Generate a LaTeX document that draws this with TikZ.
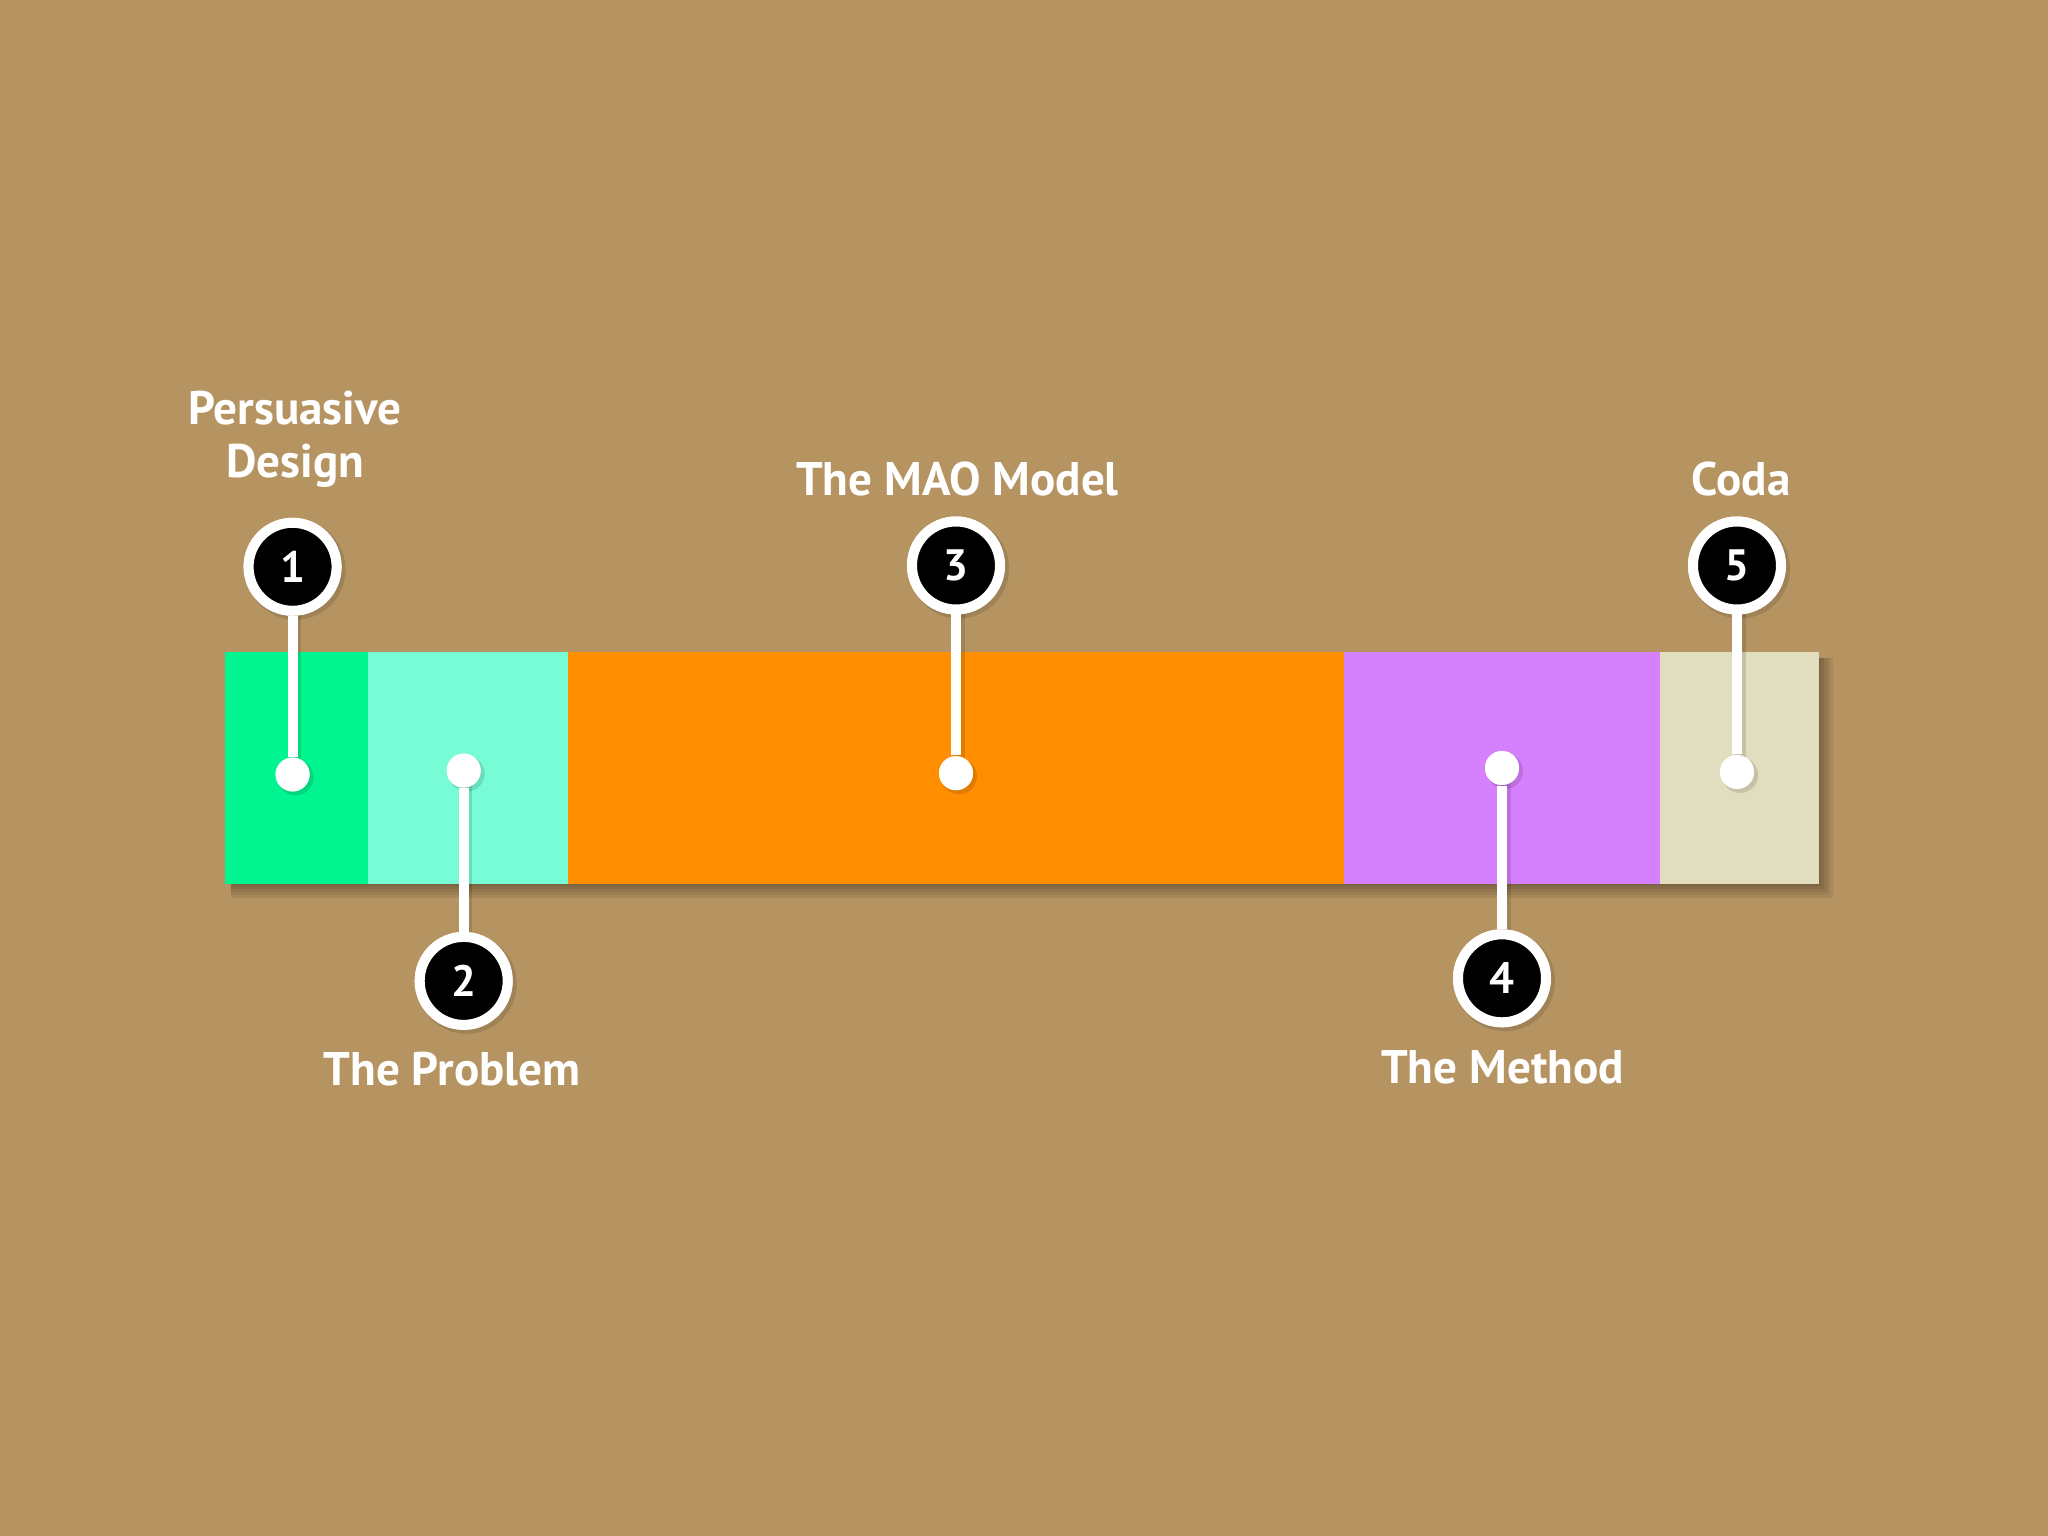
\documentclass[tikz,border=0pt]{standalone}
\usepackage{fontspec}
\setmainfont{PT Sans}
\definecolor{kraft}{HTML}{B69462}
\definecolor{segA}{HTML}{00F590}
\definecolor{segB}{HTML}{78FCD6}
\definecolor{segC}{HTML}{FF8F00}
\definecolor{segD}{HTML}{D580FC}
\definecolor{segE}{HTML}{E0DEBE}
\tikzset{
  badge/.style={circle, fill=black, draw=white, line width=0.1cm, minimum size=0.88cm, inner sep=0pt,
    text=white, font=\bfseries\fontsize{12.5}{13}\selectfont},
  dot/.style={circle, fill=white, minimum size=0.34cm, inner sep=0pt},
  stem/.style={white, line width=0.1cm},
  lbl/.style={text=white, font=\bfseries\fontsize{13.4}{15}\selectfont, align=center, inner sep=0pt},
  soft/.style={black, opacity=0.07},
}
\begin{document}
\begin{tikzpicture}
\useasboundingbox (0,0) rectangle (20.48,-15.36);
\fill[kraft] (0,0) rectangle (20.48,-15.36);
% soft bar shadow (right and bottom only)
\foreach \e in {0.00,0.03,0.06,0.09,0.12}{
  \fill[soft] (2.246+0.06,-6.517-0.06) rectangle (18.194+0.02+\e,-8.842-0.02-\e);
}
% bar segments
\fill[segA] (2.246,-6.517) rectangle (3.68,-8.842);
\fill[segB] (3.68,-6.517) rectangle (5.682,-8.842);
\fill[segC] (5.682,-6.517) rectangle (13.44,-8.842);
\fill[segD] (13.44,-6.517) rectangle (16.60,-8.842);
\fill[segE] (16.60,-6.517) rectangle (18.194,-8.842);
% dots
\node[dot] (d1) at (2.926,-7.745) {};
\node[dot] (d2) at (4.637,-7.706) {};
\node[dot] (d3) at (9.56,-7.732) {};
\node[dot] (d4) at (15.02,-7.68) {};
\node[dot] (d5) at (17.37,-7.72) {};
% badges
\node[badge] (c1) at (2.926,-5.668) {1};
\node[badge] (c2) at (4.637,-9.809) {2};
\node[badge] (c3) at (9.56,-5.655) {3};
\node[badge] (c4) at (15.02,-9.783) {4};
\node[badge] (c5) at (17.37,-5.655) {5};
% shadows of stems, dots, badges
\foreach \a/\b in {c1/d1,c2/d2,c3/d3,c4/d4,c5/d5}{
  \draw[black, opacity=0.12, line width=0.11cm, transform canvas={shift={(0.03,-0.03)}}] (\a.center) -- (\b.center);
  \fill[black, opacity=0.12] ([shift={(0.03,-0.03)}]\b.center) circle (0.18);
  \fill[black, opacity=0.12] ([shift={(0.03,-0.03)}]\a.center) circle (0.5);
}
% stems
\draw[stem] (c1) -- (d1);
\draw[stem] (c2) -- (d2);
\draw[stem] (c3) -- (d3);
\draw[stem] (c4) -- (d4);
\draw[stem] (c5) -- (d5);
% redraw dots and badges on top
\node[dot] at (d1) {};
\node[dot] at (d2) {};
\node[dot] at (d3) {};
\node[dot] at (d4) {};
\node[dot] at (d5) {};
\node[badge] at (c1) {1};
\node[badge] at (c2) {2};
\node[badge] at (c3) {3};
\node[badge] at (c4) {4};
\node[badge] at (c5) {5};
% labels
\node[lbl, anchor=base] (t1) at (2.95,-4.25) {Persuasive};
\node[lbl, anchor=base] (t1b) at (2.95,-4.78) {Design};
\node[lbl, anchor=base] (t3) at (9.575,-4.955) {The MAO Model};
\node[lbl, anchor=base] (t5) at (17.41,-4.955) {Coda};
\node[lbl, anchor=base] (t2) at (4.52,-10.85) {The Problem};
\node[lbl, anchor=base] (t4) at (15.025,-10.84) {The Method};
\end{tikzpicture}
\end{document}
